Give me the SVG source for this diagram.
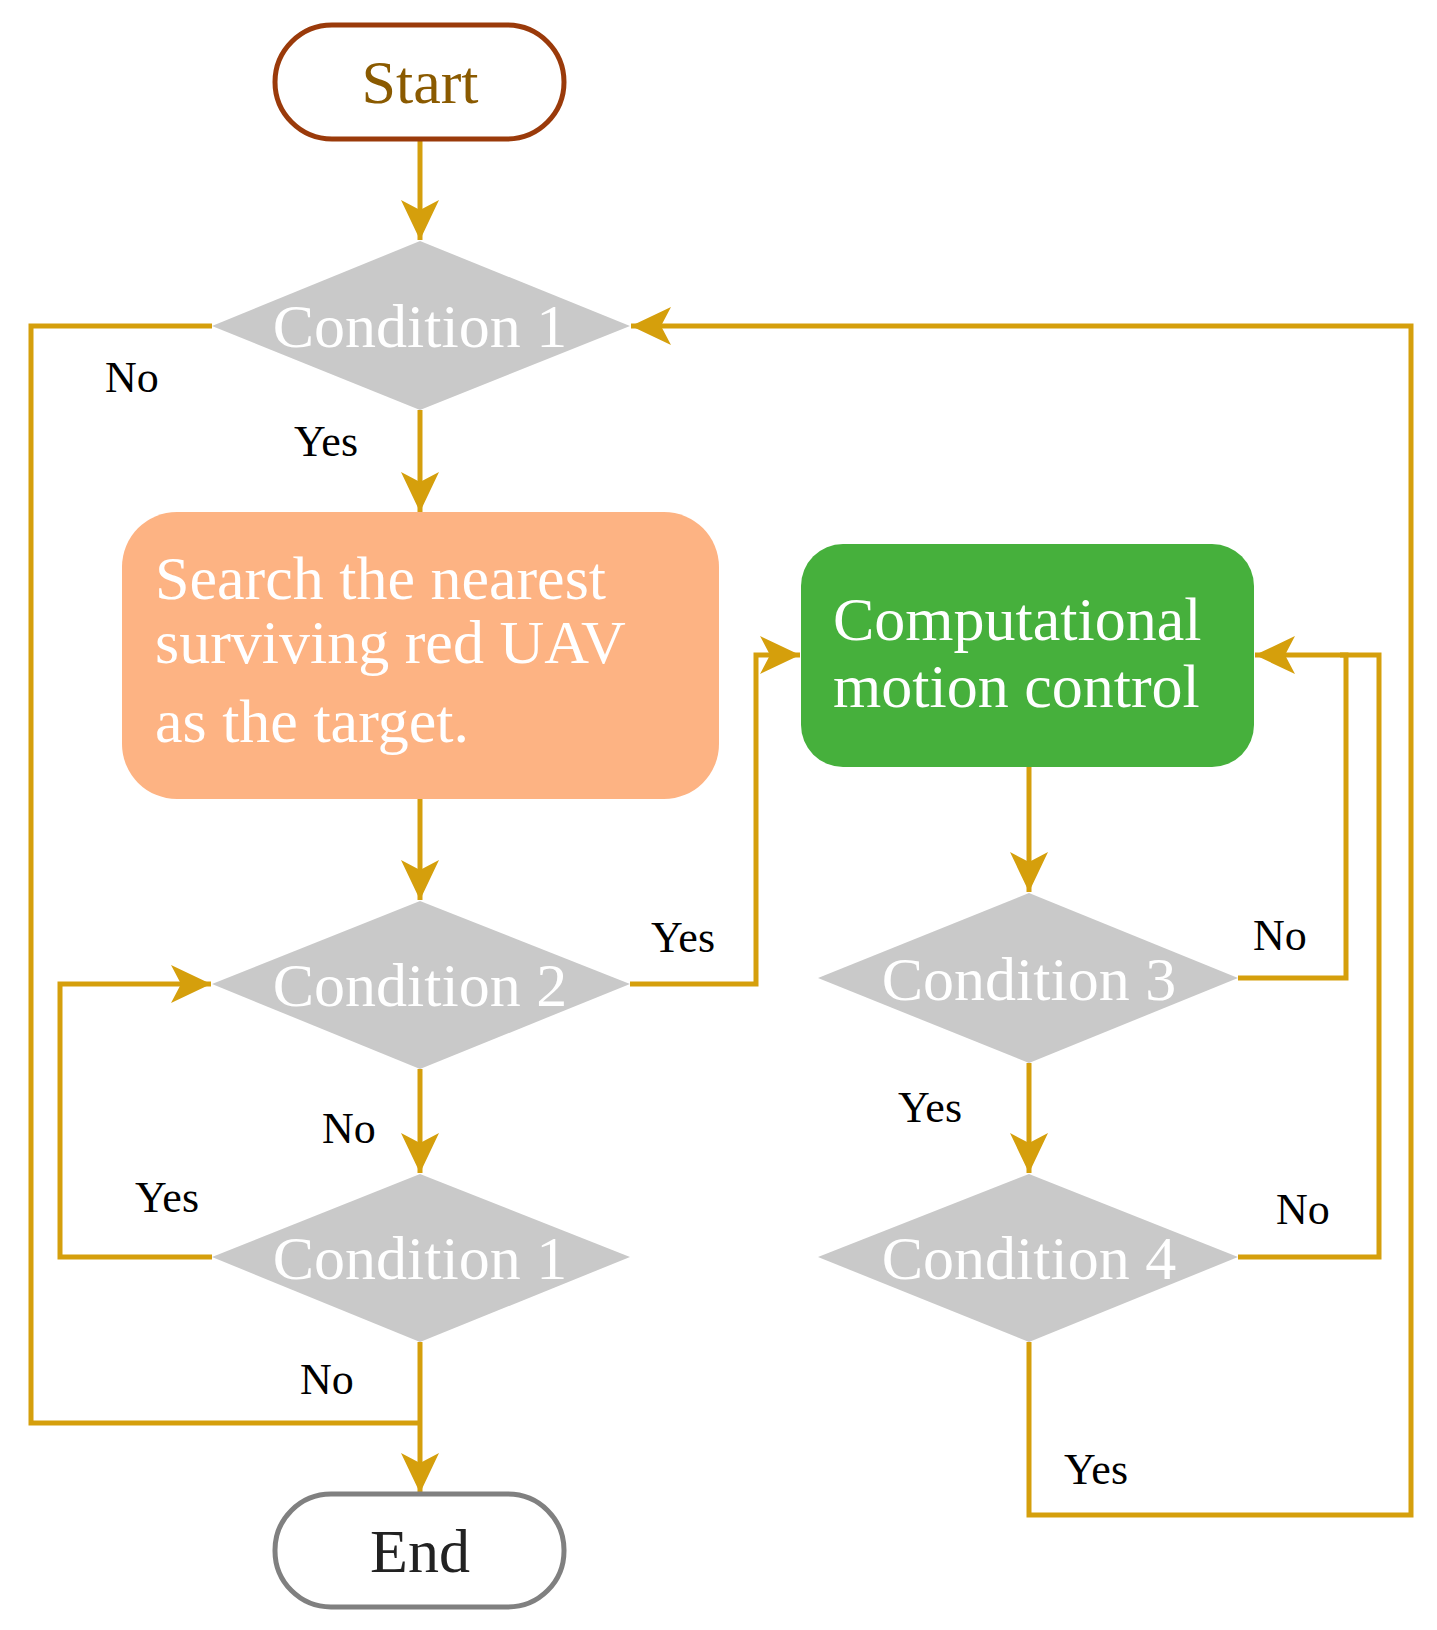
<svg xmlns="http://www.w3.org/2000/svg" width="1437" height="1630" viewBox="0 0 1437 1630">
<defs>
<marker id="ah" markerWidth="40" markerHeight="38" refX="40" refY="19" orient="auto" markerUnits="userSpaceOnUse"><path d="M0,0 L40,19 L0,38 L10,19 Z" fill="#d59f0c"/></marker>
<style>
.c{fill:none;stroke:#d59f0c;stroke-width:5}
.d{fill:#c9c9c9}
.dt{font-family:"Liberation Serif",serif;font-size:62px;fill:#fff;text-anchor:middle}
.l{font-family:"Liberation Serif",serif;font-size:44px;fill:#000}
.bt{font-family:"Liberation Serif",serif;font-size:62px;fill:#fff}
</style>
</defs>
<rect width="1437" height="1630" fill="#fff"/>
<g id="connectors">
<path class="c" d="M420,139 V240" marker-end="url(#ah)"/>
<path class="c" d="M420,410 V512" marker-end="url(#ah)"/>
<path class="c" d="M420,799 V900" marker-end="url(#ah)"/>
<path class="c" d="M420,1069 V1173" marker-end="url(#ah)"/>
<path class="c" d="M420,1342 V1493" marker-end="url(#ah)"/>
<path class="c" d="M212,326 H31 V1423 H420"/>
<path class="c" d="M212,1257 H60 V984 H211" marker-end="url(#ah)"/>
<path class="c" d="M630,984 H756 V655 H800" marker-end="url(#ah)"/>
<path class="c" d="M1029,767 V892" marker-end="url(#ah)"/>
<path class="c" d="M1029,1063 V1173" marker-end="url(#ah)"/>
<path class="c" d="M1238,978 H1346 V655 H1255" marker-end="url(#ah)"/>
<path class="c" d="M1238,1257 H1379 V655 H1340"/>
<path class="c" d="M1029,1342 V1515 H1411 V326 H631" marker-end="url(#ah)"/>
</g>
<g id="start"><rect x="275" y="25" width="289" height="114" rx="57" fill="#fff" stroke="#9a3a0a" stroke-width="5"/><text x="420" y="103" font-family="Liberation Serif,serif" font-size="62" fill="#8a5a00" text-anchor="middle">Start</text></g>
<g id="cond1"><polygon class="d" points="420,241 630,326 420,410 212,326"/><text class="dt" x="420" y="347">Condition 1</text></g>
<g id="search"><rect x="122" y="512" width="597" height="287" rx="55" fill="#fdb383"/><text class="bt" x="155" y="599">Search the nearest</text><text class="bt" x="155" y="663">surviving red UAV</text><text class="bt" x="155" y="742">as the target.</text></g>
<g id="motion"><rect x="801" y="544" width="453" height="223" rx="42" fill="#46b03c"/><text class="bt" x="833" y="640">Computational</text><text class="bt" x="833" y="707">motion control</text></g>
<g id="cond2"><polygon class="d" points="420,901 630,984 420,1069 212,984"/><text class="dt" x="420" y="1006">Condition 2</text></g>
<g id="cond1b"><polygon class="d" points="420,1174 630,1257 420,1342 212,1257"/><text class="dt" x="420" y="1279">Condition 1</text></g>
<g id="cond3"><polygon class="d" points="1029,893 1238,978 1029,1063 818,978"/><text class="dt" x="1029" y="1000">Condition 3</text></g>
<g id="cond4"><polygon class="d" points="1029,1174 1238,1257 1029,1342 818,1257"/><text class="dt" x="1029" y="1279">Condition 4</text></g>
<g id="end"><rect x="275" y="1494" width="289" height="113" rx="56" fill="#fff" stroke="#808080" stroke-width="5"/><text x="420" y="1572" font-family="Liberation Serif,serif" font-size="62" fill="#222" text-anchor="middle">End</text></g>
<g id="labels">
<text class="l" x="105" y="392">No</text>
<text class="l" x="294" y="456">Yes</text>
<text class="l" x="651" y="952">Yes</text>
<text class="l" x="322" y="1143">No</text>
<text class="l" x="135" y="1212">Yes</text>
<text class="l" x="300" y="1394">No</text>
<text class="l" x="1253" y="950">No</text>
<text class="l" x="898" y="1122">Yes</text>
<text class="l" x="1276" y="1224">No</text>
<text class="l" x="1064" y="1484">Yes</text>
</g>
</svg>
